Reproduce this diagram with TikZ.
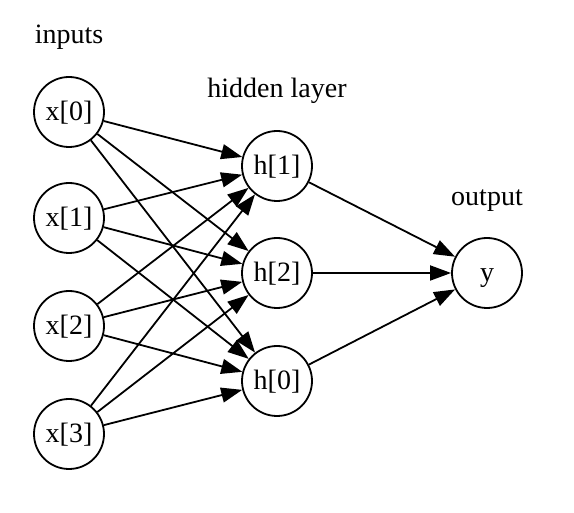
\documentclass[tikz,border=0pt]{standalone}
\usepackage{fontspec}
\setmainfont{Liberation Serif}
\usetikzlibrary{arrows.meta}
\begin{document}
\begin{tikzpicture}
		[x=1pt,y=-1pt,
		neuron/.style={circle,draw,line width=1.8pt,minimum size=70pt,
			inner sep=0pt,font=\fontsize{28}{30}\selectfont,
			text height=20pt,text depth=2pt},
		layername/.style={anchor=base,font=\fontsize{28}{30}\selectfont},
		synapse/.style={line width=1.8pt,
			-{Triangle[length=21pt,width=15pt]}}]
		\useasboundingbox (0,0) rectangle (574,513);
		% layer names
		\node[layername] (inputs) at (69,44) {inputs};
		\node[layername] (hidden) at (277,98) {hidden layer};
		\node[layername] (output) at (487,206) {output};
		% input layer
		\node[neuron] (x0) at (69,112) {x[0]};
		\node[neuron] (x1) at (69,218) {x[1]};
		\node[neuron] (x2) at (69,326) {x[2]};
		\node[neuron] (x3) at (69,434) {x[3]};
		% hidden layer
		\node[neuron] (h1) at (277,166) {h[1]};
		\node[neuron] (h2) at (277,273) {h[2]};
		\node[neuron] (h0) at (277,381) {h[0]};
		% output layer
		\node[neuron] (y) at (487,273) {y};
		\foreach \i in {0,...,3}
			\foreach \j in {0,1,2}
				\draw[synapse] (x\i) -- (h\j);
		\foreach \j in {0,1,2}
			\draw[synapse] (h\j) -- (y);
	\end{tikzpicture}
\end{document}
